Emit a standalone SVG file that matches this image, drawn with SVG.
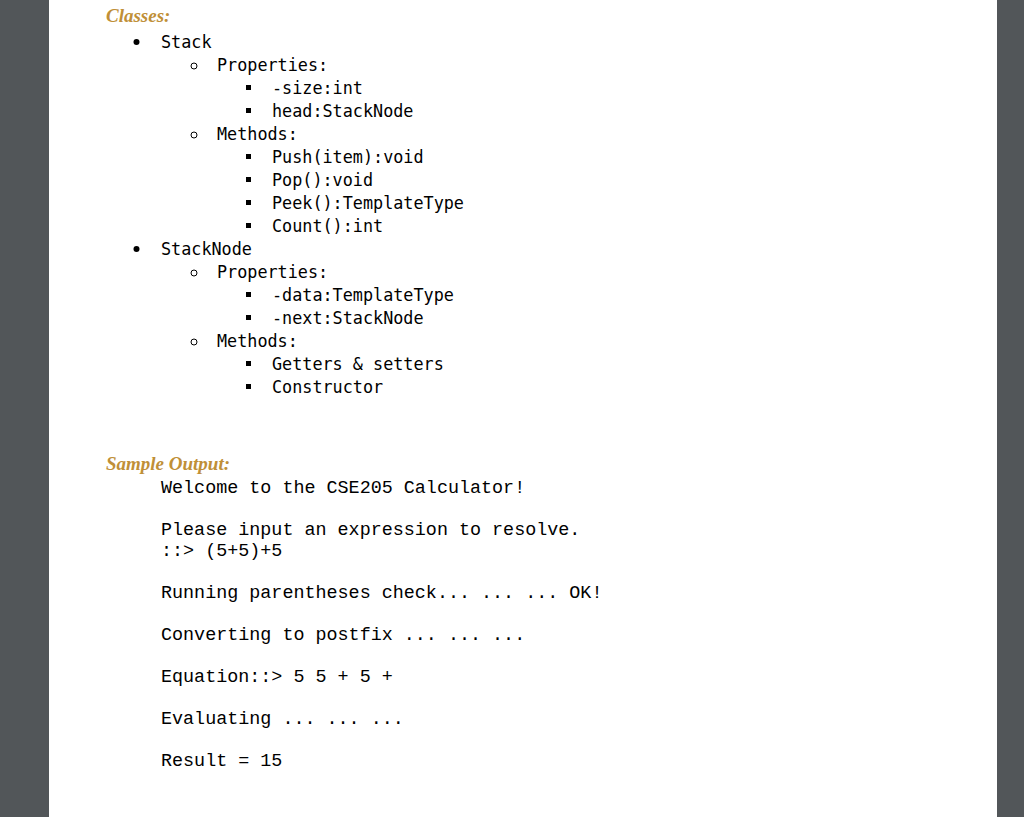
<svg xmlns="http://www.w3.org/2000/svg" width="1024" height="817" viewBox="0 0 1024 817">
<style>
.h{font-family:"Liberation Serif",serif;font-weight:bold;font-style:italic;font-size:19px;fill:#c08f37}
.t{font-family:"DejaVu Sans Mono",monospace;font-size:16.8px;fill:#000}
.m{font-family:"Liberation Mono",monospace;font-size:18.4px;fill:#000}
.o{fill:none;stroke:#000;stroke-width:1}
</style>
<rect width="1024" height="817" fill="#525659"/>
<rect x="49" y="0" width="948" height="817" fill="#fff"/>
<text class="h" x="106" y="22">Classes:</text>
<g class="t">
<text x="161" y="48">Stack</text>
<text x="217" y="71">Properties:</text>
<text x="272" y="94">-size:int</text>
<text x="272" y="117">head:StackNode</text>
<text x="217" y="140">Methods:</text>
<text x="272" y="163">Push(item):void</text>
<text x="272" y="186">Pop():void</text>
<text x="272" y="209">Peek():TemplateType</text>
<text x="272" y="232">Count():int</text>
<text x="161" y="255">StackNode</text>
<text x="217" y="278">Properties:</text>
<text x="272" y="301">-data:TemplateType</text>
<text x="272" y="324">-next:StackNode</text>
<text x="217" y="347">Methods:</text>
<text x="272" y="370">Getters &amp; setters</text>
<text x="272" y="393">Constructor</text>
</g>
<g>
<circle cx="136.5" cy="42" r="3"/>
<circle cx="136.5" cy="249" r="3"/>
<circle class="o" cx="194" cy="66" r="3"/>
<circle class="o" cx="194" cy="135" r="3"/>
<circle class="o" cx="194" cy="273" r="3"/>
<circle class="o" cx="194" cy="342" r="3"/>
<rect x="246" y="85" width="5" height="5"/>
<rect x="246" y="108" width="5" height="5"/>
<rect x="246" y="154" width="5" height="5"/>
<rect x="246" y="177" width="5" height="5"/>
<rect x="246" y="200" width="5" height="5"/>
<rect x="246" y="223" width="5" height="5"/>
<rect x="246" y="292" width="5" height="5"/>
<rect x="246" y="315" width="5" height="5"/>
<rect x="246" y="361" width="5" height="5"/>
<rect x="246" y="384" width="5" height="5"/>
</g>
<text class="h" x="106" y="470">Sample Output:</text>
<g class="m" xml:space="preserve">
<text x="161" y="493">Welcome to the CSE205 Calculator!</text>
<text x="161" y="535">Please input an expression to resolve.</text>
<text x="161" y="556">::&gt; (5+5)+5</text>
<text x="161" y="598">Running parentheses check... ... ... OK!</text>
<text x="161" y="640">Converting to postfix ... ... ...</text>
<text x="161" y="682">Equation::&gt; 5 5 + 5 +</text>
<text x="161" y="724">Evaluating ... ... ...</text>
<text x="161" y="766">Result = 15</text>
</g>
</svg>
